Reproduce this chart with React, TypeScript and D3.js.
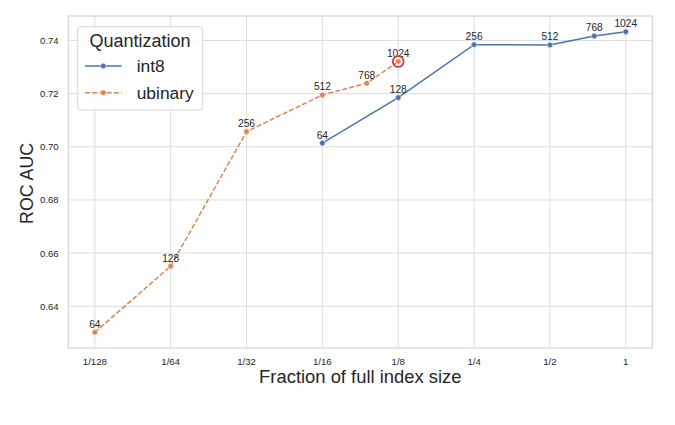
import { useEffect } from "react";
import * as d3 from "d3";

const xTickValues = [1 / 128, 1 / 64, 1 / 32, 1 / 16, 1 / 8, 1 / 4, 1 / 2, 1];
const xTickLabels = ["1/128", "1/64", "1/32", "1/16", "1/8", "1/4", "1/2", "1"];
const yTickValues = [0.64, 0.66, 0.68, 0.7, 0.72, 0.74];

const int8Dims = [64, 128, 256, 512, 768, 1024];
const int8Fraction = [1 / 16, 1 / 8, 1 / 4, 1 / 2, 3 / 4, 1];
const int8Auc = [0.7014, 0.7185, 0.7384, 0.7383, 0.7417, 0.7433];

const ubinaryDims = [64, 128, 256, 512, 768, 1024];
const ubinaryFraction = [1 / 128, 1 / 64, 1 / 32, 1 / 16, 3 / 32, 1 / 8];
const ubinaryAuc = [0.6302, 0.6551, 0.7057, 0.7195, 0.7239, 0.7321];

const highlightIndex = 5; // ubinary 1024

const W = 675;
const H = 425;
const margin = { top: 16, right: 22.7, bottom: 77, left: 68.3 };
const BLUE = "#4c72b0";
const ORANGE = "#dd8452";
const FONT = "'Liberation Sans', Arial, sans-serif";

type Pt = { f: number; v: number; d: number };

export default function App() {
  useEffect(() => {
    document.body.style.margin = "0";
  }, []);

  const x = d3
    .scaleLog()
    .base(2)
    .domain([Math.pow(2, -7.35), Math.pow(2, 0.35)])
    .range([margin.left, W - margin.right]);
  const y = d3
    .scaleLinear()
    .domain([0.6243, 0.7492])
    .range([H - margin.bottom, margin.top]);

  const line = d3
    .line<Pt>()
    .x((p) => x(p.f))
    .y((p) => y(p.v));

  const int8: Pt[] = int8Dims.map((d, i) => ({ f: int8Fraction[i], v: int8Auc[i], d }));
  const ubin: Pt[] = ubinaryDims.map((d, i) => ({ f: ubinaryFraction[i], v: ubinaryAuc[i], d }));

  const x0 = margin.left;
  const x1 = W - margin.right;
  const y0 = margin.top;
  const y1 = H - margin.bottom;

  const series = [
    { pts: ubin, color: ORANGE, dash: "5,2.2" },
    { pts: int8, color: BLUE, dash: undefined },
  ];

  return (
    <svg width={W} height={H} style={{ display: "block", background: "#fff" }} fontFamily={FONT}>
      {/* grid */}
      {xTickValues.map((t) => (
        <line key={"gx" + t} x1={x(t)} x2={x(t)} y1={y0} y2={y1} stroke="#dcdcdc" strokeWidth={1} />
      ))}
      {yTickValues.map((t) => (
        <line key={"gy" + t} x1={x0} x2={x1} y1={y(t)} y2={y(t)} stroke="#dcdcdc" strokeWidth={1} />
      ))}
      <rect x={x0} y={y0} width={x1 - x0} height={y1 - y0} fill="none" stroke="#cfcfcf" strokeWidth={1.1} />

      {/* tick labels */}
      {xTickValues.map((t, i) => (
        <text key={"tx" + t} x={x(t)} y={y1 + 16.5} textAnchor="middle" fontSize={9.6} fill="#262626">
          {xTickLabels[i]}
        </text>
      ))}
      {yTickValues.map((t) => (
        <text key={"ty" + t} x={x0 - 9.6} y={y(t) + 3.4} textAnchor="end" fontSize={9.6} fill="#262626">
          {t.toFixed(2)}
        </text>
      ))}

      {/* axis titles */}
      <text x={(x0 + x1) / 2} y={382.7} textAnchor="middle" fontSize={18.4} fill="#262626">
        Fraction of full index size
      </text>
      <text
        transform={`translate(33.3,${(y0 + y1) / 2 + 1.4}) rotate(-90)`}
        textAnchor="middle"
        fontSize={17.8}
        fill="#262626"
      >
        ROC AUC
      </text>

      {/* series */}
      {series.map((s, si) => (
        <g key={"s" + si}>
          <path d={line(s.pts) || ""} fill="none" stroke={s.color} strokeWidth={1.5} strokeDasharray={s.dash} />
          {s.pts.map((p, i) => (
            <circle key={i} cx={x(p.f)} cy={y(p.v)} r={2.8} fill={s.color} stroke="#fff" strokeWidth={0.5} />
          ))}
          {s.pts.map((p, i) => (
            <text key={"l" + i} x={x(p.f)} y={y(p.v) - 4.5} textAnchor="middle" fontSize={10.2} fill="#262626">
              {p.d}
            </text>
          ))}
        </g>
      ))}

      {/* highlight */}
      <circle
        cx={x(ubin[highlightIndex].f)}
        cy={y(ubin[highlightIndex].v)}
        r={5.4}
        fill="none"
        stroke="#d03a3a"
        strokeWidth={1.8}
      />

      {/* legend */}
      <g>
        <rect x={77.7} y={26.7} width={125} height={83.3} rx={3} fill="#fff" fillOpacity={0.85} stroke="#d6d6d6" strokeWidth={1} />
        <text x={140} y={46.7} textAnchor="middle" fontSize={18} fill="#262626">
          Quantization
        </text>
        <line x1={85} x2={121.7} y1={66} y2={66} stroke={BLUE} strokeWidth={1.5} />
        <circle cx={103.3} cy={66} r={2.8} fill={BLUE} stroke="#fff" strokeWidth={0.5} />
        <text x={136.7} y={72.3} fontSize={17.4} fill="#262626">
          int8
        </text>
        <line x1={85} x2={121.7} y1={92.7} y2={92.7} stroke={ORANGE} strokeWidth={1.5} strokeDasharray="5,2.2" />
        <circle cx={103.3} cy={92.7} r={2.8} fill={ORANGE} stroke="#fff" strokeWidth={0.5} />
        <text x={136.7} y={99} fontSize={17.4} fill="#262626">
          ubinary
        </text>
      </g>
    </svg>
  );
}
